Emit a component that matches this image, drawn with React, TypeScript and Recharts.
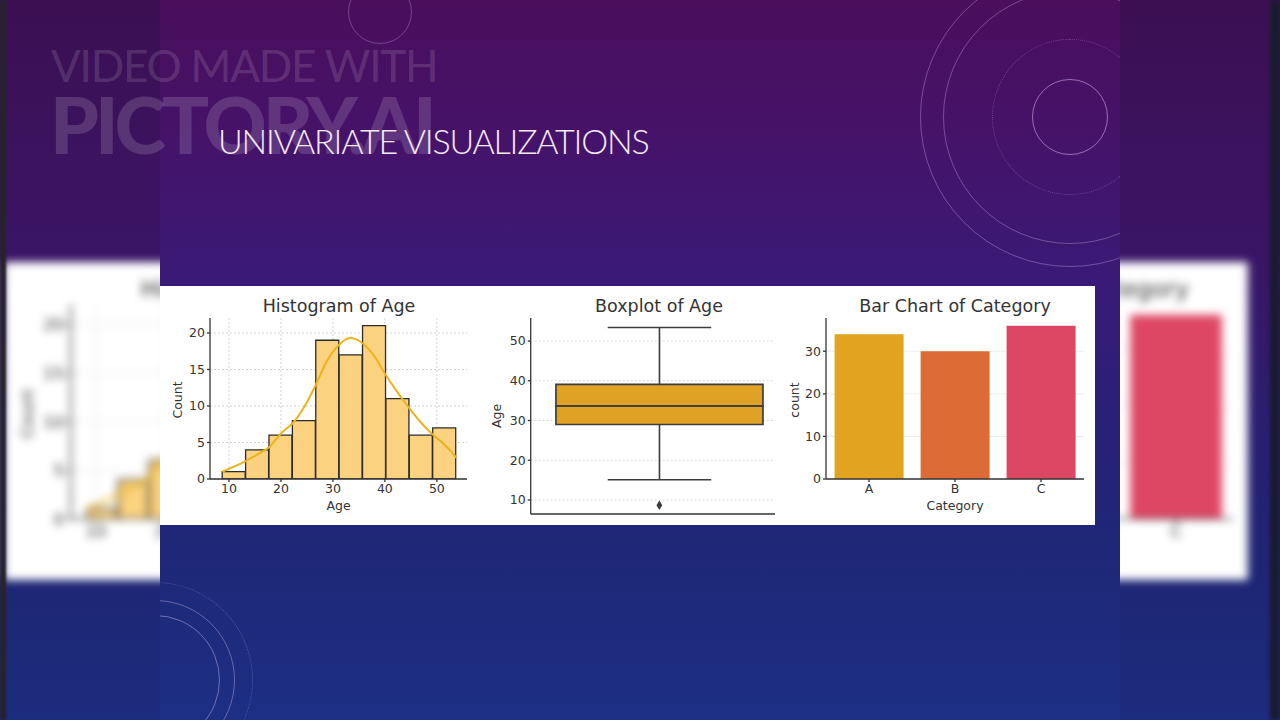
import React from 'react'
import {
  ComposedChart,
  BarChart,
  Bar,
  Line,
  Scatter,
  XAxis,
  YAxis,
  ZAxis,
  CartesianGrid,
  Cell,
} from 'recharts'

// ---- Histogram of Age ----
const binMids = [10.95, 15.45, 19.95, 24.45, 28.95, 33.45, 37.95, 42.45, 46.95, 51.45]
const binCounts = [1, 4, 6, 8, 19, 17, 21, 11, 6, 7]
const kdeAges = [8.7, 13.1, 15.3, 17.8, 20.1, 22.2, 24.5, 26.7, 28.8, 31.2, 33.3, 35.5, 37.8, 40.2, 42.6, 44.7, 47.1, 49.2, 51.5, 53.8]
const kdeCounts = [1.0, 2.4, 3.3, 4.4, 6.3, 7.6, 9.9, 12.9, 16.1, 18.4, 19.3, 18.7, 17.0, 14.2, 11.7, 9.7, 7.6, 6.1, 4.7, 2.9]
const ageTicks = [10, 20, 30, 40, 50]
const countTicks = [0, 5, 10, 15, 20]

// ---- Boxplot of Age ----
const boxNames = ['Age']
const whiskerLow = [15.1]
const q1 = [29.0]
const medians = [33.7]
const q3 = [39.1]
const whiskerHigh = [53.4]
const outliers = [8.7]
const boxTicks = [10, 20, 30, 40, 50]

// ---- Bar Chart of Category ----
const categories = ['A', 'B', 'C']
const categoryCounts = [34, 30, 36]
const categoryColors = ['#e2a41f', '#dd6b36', '#de4763']
const barTicks = [0, 10, 20, 30]

const histData = binMids.map((mid, i) => ({ mid, count: binCounts[i] }))
const kdeData = kdeAges.map((age, i) => ({ age, kde: kdeCounts[i] }))
const boxData = boxNames.map((name, i) => ({
  name,
  base: whiskerLow[i],
  lowWhisker: q1[i] - whiskerLow[i],
  lowBox: medians[i] - q1[i],
  highBox: q3[i] - medians[i],
  highWhisker: whiskerHigh[i] - q3[i],
  outlier: outliers[i],
}))
const catData = categories.map((category, i) => ({ category, count: categoryCounts[i] }))

const FONT = 'DejaVu Sans, sans-serif'
const INK = '#333333'
const BOX_EDGE = '#3d3d3d'
const tickStyle = { fill: INK, fontSize: 12.5, fontFamily: FONT }
const axisStyle = { stroke: INK, strokeWidth: 1.3 }

const Whisker = ({ x, y, width, height, capAt }: any) => {
  const cx = x + width / 2
  const capY = capAt === 'top' ? y : y + height
  return (
    <g>
      <line x1={cx} x2={cx} y1={y} y2={y + height} stroke={BOX_EDGE} strokeWidth={1.6} />
      <line x1={cx - width / 4} x2={cx + width / 4} y1={capY} y2={capY} stroke={BOX_EDGE} strokeWidth={1.6} />
    </g>
  )
}

function HistogramChart() {
  return (
    <ComposedChart
      width={320}
      height={240}
      data={histData}
      margin={{ top: 32, right: 13, bottom: 27, left: 20 }}
      barCategoryGap={0}
      barGap={0}
    >
      <CartesianGrid xAxisId="age" stroke="#d2d2d2" strokeDasharray="2 2" syncWithTicks />
      <XAxis xAxisId="bins" dataKey="mid" type="number" domain={[6.35, 55.8]} hide allowDataOverflow />
      <XAxis
        xAxisId="age"
        dataKey="age"
        type="number"
        domain={[6.35, 55.8]}
        allowDataOverflow
        ticks={ageTicks}
        tick={tickStyle}
        tickSize={3}
        tickLine={axisStyle}
        axisLine={axisStyle}
        height={20}
      />
      <YAxis
        domain={[0, 22.05]}
        allowDataOverflow
        ticks={countTicks}
        tick={tickStyle}
        tickSize={3}
        tickLine={axisStyle}
        axisLine={axisStyle}
        width={30}
      />
      <Bar
        xAxisId="bins"
        dataKey="count"
        fill="#fbd27f"
        stroke="#2b2b2b"
        strokeWidth={1.3}
        isAnimationActive={false}
      />
      <Line
        xAxisId="age"
        data={kdeData}
        dataKey="kde"
        type="monotone"
        stroke="#ebb31c"
        strokeWidth={2}
        dot={false}
        isAnimationActive={false}
      />
    </ComposedChart>
  )
}

function BoxplotChart() {
  return (
    <ComposedChart
      width={310}
      height={240}
      data={boxData}
      margin={{ top: 32, right: 15, bottom: 11, left: 20 }}
      barCategoryGap="5.3%"
    >
      <CartesianGrid vertical={false} stroke="#d8d8d8" strokeDasharray="2 2" syncWithTicks />
      <XAxis
        dataKey="name"
        tick={false}
        tickLine={false}
        axisLine={axisStyle}
        height={1}
        padding={{ left: 13, right: 0 }}
      />
      <YAxis
        domain={[6.48, 55.8]}
        allowDataOverflow
        ticks={boxTicks}
        tick={tickStyle}
        tickSize={3}
        tickLine={axisStyle}
        axisLine={axisStyle}
        width={30.7}
      />
      <ZAxis range={[28, 28]} />
      <Bar dataKey="base" stackId="box" shape={() => <g />} isAnimationActive={false} />
      <Bar
        dataKey="lowWhisker"
        stackId="box"
        shape={(p: any) => <Whisker {...p} capAt="bottom" />}
        isAnimationActive={false}
      />
      <Bar dataKey="lowBox" stackId="box" fill="#dfa224" stroke={BOX_EDGE} strokeWidth={1.7} isAnimationActive={false} />
      <Bar dataKey="highBox" stackId="box" fill="#dfa224" stroke={BOX_EDGE} strokeWidth={1.7} isAnimationActive={false} />
      <Bar
        dataKey="highWhisker"
        stackId="box"
        shape={(p: any) => <Whisker {...p} capAt="top" />}
        isAnimationActive={false}
      />
      <Scatter dataKey="outlier" shape="diamond" fill={BOX_EDGE} isAnimationActive={false} />
    </ComposedChart>
  )
}

function CategoryChart() {
  return (
    <BarChart
      width={315}
      height={240}
      data={catData}
      margin={{ top: 32, right: 11, bottom: 27, left: 16 }}
      barCategoryGap="10%"
    >
      <CartesianGrid vertical={false} stroke="#ececec" syncWithTicks />
      <XAxis
        dataKey="category"
        tick={tickStyle}
        tickSize={3}
        tickLine={axisStyle}
        axisLine={axisStyle}
        height={20}
      />
      <YAxis
        domain={[0, 37.8]}
        allowDataOverflow
        ticks={barTicks}
        tick={tickStyle}
        tickSize={3}
        tickLine={axisStyle}
        axisLine={axisStyle}
        width={30}
      />
      <Bar dataKey="count" isAnimationActive={false}>
        {catData.map((entry, index) => (
          <Cell key={`cell-${index}`} fill={categoryColors[index]} />
        ))}
      </Bar>
    </BarChart>
  )
}

// centred text helper (x, y = centre of the text, panel coordinates)
function Txt({ x, y, size, rotate, children }: any) {
  return (
    <div
      style={{
        position: 'absolute',
        left: x,
        top: y,
        transform: `translate(-50%, -50%)${rotate ? ' rotate(-90deg)' : ''}`,
        fontFamily: FONT,
        fontSize: size,
        lineHeight: 1,
        color: INK,
        whiteSpace: 'nowrap',
      }}
    >
      {children}
    </div>
  )
}

function Panel() {
  return (
    <div style={{ position: 'relative', width: 935, height: 239, background: '#ffffff', overflow: 'hidden' }}>
      <div style={{ position: 'absolute', left: 0, top: 0 }}>
        <HistogramChart />
      </div>
      <div style={{ position: 'absolute', left: 320, top: 0 }}>
        <BoxplotChart />
      </div>
      <div style={{ position: 'absolute', left: 620, top: 0 }}>
        <CategoryChart />
      </div>

      <Txt x={179} y={21} size={17.5}>Histogram of Age</Txt>
      <Txt x={499} y={21} size={17.5}>Boxplot of Age</Txt>
      <Txt x={795} y={21} size={17.5}>Bar Chart of Category</Txt>

      <Txt x={18} y={114} size={12.5} rotate>Count</Txt>
      <Txt x={178.5} y={220} size={12.5}>Age</Txt>
      <Txt x={336.7} y={130} size={12.5} rotate>Age</Txt>
      <Txt x={635} y={114} size={12.5} rotate>count</Txt>
      <Txt x={795} y={220} size={12.5}>Category</Txt>
    </div>
  )
}

function Ring({ cx, cy, r, dashed, opacity }: any) {
  return (
    <div
      style={{
        position: 'absolute',
        left: cx - r,
        top: cy - r,
        width: r * 2,
        height: r * 2,
        borderRadius: '50%',
        border: `${dashed ? 1.5 : 1.2}px ${dashed ? 'dotted' : 'solid'} rgba(215, 190, 240, ${opacity})`,
        boxSizing: 'border-box',
      }}
    />
  )
}

export default function App() {
  return (
    <div
      style={{
        position: 'fixed',
        left: 0,
        top: 0,
        width: 1280,
        height: 720,
        overflow: 'hidden',
        background: 'linear-gradient(180deg, #3c0f52 0%, #3a1566 35%, #2a1f72 60%, #1e2674 80%, #1c2c7e 100%)',
      }}
    >
      {/* enlarged, blurred copy of the slide content behind */}
      <div
        style={{
          position: 'absolute',
          left: 160,
          top: 286,
          transform: 'translate(-1.5px, 15.5px) scale(1.33)',
          filter: 'blur(3px)',
        }}
      >
        <Panel />
      </div>
      <div style={{ position: 'absolute', left: 0, top: 0, width: 6, height: 720, background: '#26232b', filter: 'blur(1px)' }} />
      <div style={{ position: 'absolute', right: 0, top: 0, width: 10, height: 720, background: '#1a1a30', filter: 'blur(2px)' }} />

      {/* central video column */}
      <div
        style={{
          position: 'absolute',
          left: 160,
          top: 0,
          width: 960,
          height: 720,
          overflow: 'hidden',
          background: 'linear-gradient(180deg, #4a0e5c 0%, #45136a 20%, #3a1a76 38%, #2a2078 58%, #1f2777 75%, #1c2f84 100%)',
        }}
      >
        <Ring cx={910} cy={117} r={150} opacity={0.35} />
        <Ring cx={910} cy={117} r={127} opacity={0.35} />
        <Ring cx={910} cy={117} r={78} dashed opacity={0.3} />
        <Ring cx={910} cy={117} r={38} opacity={0.55} />
        <Ring cx={220} cy={12} r={32} opacity={0.3} />
        <Ring cx={-5} cy={680} r={80} opacity={0.4} />
        <Ring cx={-5} cy={680} r={65} opacity={0.45} />
        <Ring cx={-5} cy={680} r={98} dashed opacity={0.3} />
      </div>

      {/* watermark */}
      <div
        style={{
          position: 'absolute',
          left: 51,
          top: 43,
          fontFamily: 'Lato, sans-serif',
          fontSize: 44,
          letterSpacing: -1.2,
          lineHeight: 1,
          color: 'rgba(255, 255, 255, 0.15)',
          whiteSpace: 'nowrap',
        }}
      >
        VIDEO MADE WITH
      </div>
      <div
        style={{
          position: 'absolute',
          left: 50,
          top: 85,
          fontFamily: 'Lato, sans-serif',
          fontWeight: 900,
          fontSize: 78,
          letterSpacing: -4,
          lineHeight: 1,
          color: 'rgba(255, 255, 255, 0.15)',
          whiteSpace: 'nowrap',
        }}
      >
        PICTORY.AI
      </div>

      {/* slide title */}
      <div
        style={{
          position: 'absolute',
          left: 218,
          top: 124,
          fontFamily: 'Lato, sans-serif',
          fontWeight: 300,
          fontSize: 34,
          letterSpacing: -1.2,
          lineHeight: 1,
          color: '#f6ebf8',
          whiteSpace: 'nowrap',
        }}
      >
        UNIVARIATE VISUALIZATIONS
      </div>

      <div style={{ position: 'absolute', left: 160, top: 286 }}>
        <Panel />
      </div>
    </div>
  )
}
